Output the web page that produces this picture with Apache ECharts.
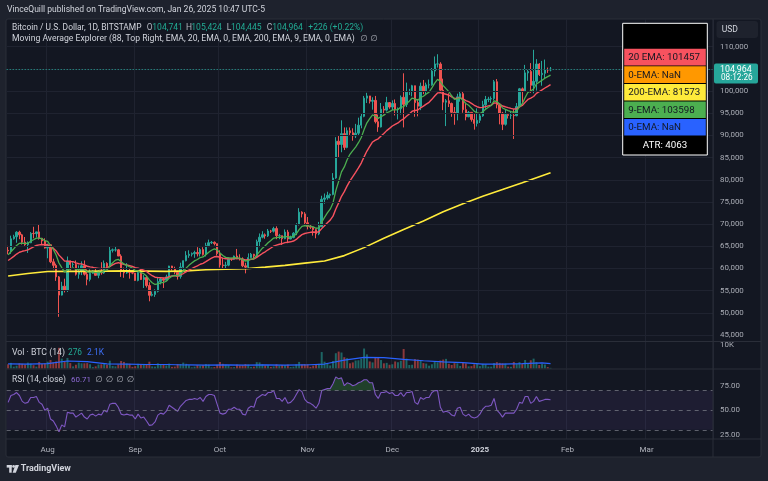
<!DOCTYPE html>
<html><head><meta charset="utf-8">
<script src="https://cdn.jsdelivr.net/npm/echarts/dist/echarts.min.js"></script>
<style>html,body{margin:0;padding:0;background:#1e222d;}#c{width:768px;height:481px;}</style>
</head><body><div id="c"></div>
<script>
// ---------- DATA ----------
const startDate = [2024, 6, 18];   // Jul 18, 2024 (first category)
const dayCount = 250;              // time axis runs to late March 2025
// daily candles [open, close, low, high], Jul 18 2024 .. Jan 26 2025
const ohlc = [
[64100,63950,63200,65100],[63950,66700,63300,67400],[66700,67150,66500,67600],[67150,68180,65800,68400],
[68180,67580,66600,68500],[67580,65930,65400,67800],[65930,65370,65100,67100],[65370,65800,63500,66100],
[65800,67900,65700,68200],[67900,67850,66800,69400],[67850,68250,67000,68300],[68250,66800,66500,70000],
[66800,66200,65300,66900],[66200,64600,64500,66800],
[64600,65350,62300,65600],[65350,61500,61200,65400],[61500,60700,59800,62200],[60700,58100,57200,61100],
[58100,54000,49100,58300],[54000,56000,53900,57000],[56000,55100,54600,57700],[55100,61700,54700,62700],
[61700,60900,59600,61800],[60900,60900,60300,61400],[60900,58700,58400,61800],[58700,59350,57700,60700],
[59350,60600,58500,61600],[60600,58700,58400,61800],[58700,57550,56200,59800],[57550,58900,57100,59800],
[58900,59450,58800,59600],[59450,58450,58400,60200],[58450,59450,57800,59600],[59450,59000,58600,61400],
[59000,61150,58800,61800],[61150,60400,59800,61400],[60400,64100,60400,64900],[64100,64200,63600,64500],
[64200,64200,63800,65000],[64200,62800,62800,64400],[62800,59400,58100,63200],[59400,59000,57900,60200],
[59000,59400,58800,61200],[59400,59100,57700,59900],[59100,58950,58700,59400],
[58950,57300,57200,59000],[57300,59100,57100,59400],[59100,57500,57400,59800],[57500,57950,55600,58500],
[57950,56150,55700,58300],[56150,53950,52600,56900],[53950,54150,53700,54800],[54150,54850,53600,55300],
[54850,57050,54600,58100],[57050,57650,56400,58000],[57650,57350,55600,57900],[57350,58100,57300,58600],
[58100,60550,57600,60600],[60550,60000,59500,60600],[60000,59150,58700,60400],[59150,58200,57500,59200],
[58200,60300,57700,61300],[60300,61750,59200,61800],[61750,62950,61600,63900],[62950,63200,62400,64100],
[63200,63350,62700,63600],[63350,63600,62400,64000],[63600,63300,62700,64800],[63300,64250,62700,64600],
[64250,63150,62900,64800],[63150,65150,62700,65800],[65150,65800,64800,66500],[65800,65900,65500,66200],
[65900,65600,65200,66100],[65600,63350,62900,65600],
[63350,60800,60200,64100],[60800,60650,59900,62400],[60650,60750,59800,61500],[60750,62100,60500,62500],
[62100,62050,61700,62400],[62050,62800,61900,62900],[62800,62200,62100,64400],[62200,62150,61800,63200],
[62150,60600,60300,62500],[60600,60300,58900,61300],[60300,62450,60000,63400],[62450,63200,62400,63500],
[63200,62850,62100,63300],[62850,66050,62400,66500],[66050,67050,64800,67900],[67050,67600,66800,68400],
[67600,67350,66700,67900],[67350,68450,67100,68900],[68450,68400,68000,68700],[68400,69000,68100,69400],
[69000,67400,66600,69500],[67400,67400,66600,67800],[67400,66700,65300,67400],[66700,68200,66600,68800],
[68200,66650,65700,68700],[66650,67000,66600,67400],[67000,67950,66800,68200],[67950,69900,67500,70200],
[69900,72700,69700,73600],[72700,72300,71500,72900],[72300,70300,69700,72700],
[70300,69500,68800,71600],[69500,69300,68900,69900],[69300,68750,67400,69400],[68750,67800,66800,69000],
[67800,69400,67500,70500],[69400,75600,69400,76400],[75600,75900,74600,76900],[75900,76500,75500,77300],
[76500,76700,75800,76900],[76700,80400,76500,81500],[80400,88700,80200,89600],[88700,87950,85100,89950],
[87950,90400,86200,93400],[90400,87300,86700,91800],[87300,91050,87100,91800],[91050,90600,90100,91800],
[90600,89900,88800,91600],[89900,90500,89400,92600],[90500,92300,90000,94000],[92300,94300,91600,94900],
[94300,98400,94100,98900],[98400,98900,97300,99600],[98900,97700,97200,98900],[97700,97900,95800,98600],
[97900,93100,92700,98900],[93100,91900,90800,94700],[91900,95900,91800,97300],[95900,95700,94700,96600],
[95700,97400,95400,98700],[97400,96400,96000,97500],
[96400,97200,95700,97900],[97200,95900,94500,98100],[95900,96000,93600,96300],[96000,98600,94700,99000],
[98600,97000,91800,104000],[97000,99900,96400,101900],[99900,99900,99100,100500],[99900,101200,98800,101400],
[101200,97400,94200,101200],[97400,96600,94300,98200],[96600,101100,95700,101900],[101100,100000,99300,102500],
[100000,101400,99200,101900],[101400,101400,100600,102600],[101400,104500,101200,105200],[104500,106100,103300,107800],
[106100,106100,105300,108300],[106100,100200,100000,106500],[100200,97500,95700,102800],[97500,97800,92100,98200],
[97800,97200,96400,99500],[97200,95200,94200,97400],[95200,94900,92400,96400],[94900,98700,93400,99400],
[98700,99400,97600,99900],[99400,95800,95100,99900],[95800,94200,93400,97300],[94200,95200,94100,95500],
[95200,93600,93100,95200],[93600,92700,91300,94900],[92700,93400,92000,96100],
[93400,94400,92800,94900],[94400,96900,94200,97800],[96900,98100,96000,98900],[98100,98200,97500,98700],
[98200,98300,97300,98800],[98300,102100,97900,102500],[102100,96900,96100,102700],[96900,95000,92500,97200],
[95000,92500,91200,95300],[92500,94700,92200,95800],[94700,94500,93800,95000],[94500,94500,93700,95300],
[94500,94450,89200,95900],[94450,96500,94300,97300],[96500,100500,96500,100700],[100500,99900,97300,100800],
[99900,104100,99900,105900],[104100,104400,102300,104900],[104400,101300,99600,106300],[101300,102200,99500,109300],
[102200,106100,100100,107200],[106100,103700,103400,106300],[103700,104000,101200,106800],[104000,104800,102800,107100],
[104800,104738,104100,105300],[104741,104964,104445,105424]
];
// daily volume, BTC
const volume = [
1800,2400,800,1200,2200,2000,1700,2500,2100,1400,800,2800,1900,2200,
2900,3600,2600,3000,8800,4200,3100,4500,2300,900,1600,2500,2200,2200,2300,1800,600,900,1700,1800,2000,1600,3300,1100,900,1700,3200,2800,2100,2000,700,
1000,2000,1700,1900,1800,2900,900,800,2200,1600,1900,1300,2100,700,800,1900,1900,2500,2000,1400,500,800,1400,1200,1400,1900,1700,500,600,1600,
2800,2000,1600,1400,500,600,1700,1300,1400,1900,1700,700,800,2700,2600,1800,1300,1400,700,900,1800,1200,1500,1400,1700,600,800,1800,2800,1700,1900,
1800,700,1200,1600,2000,7000,2900,2000,1300,3200,6500,7200,6800,4800,4400,2200,2600,3400,3500,4200,8500,6000,3000,2600,4800,4600,3600,2200,2400,1600,
1800,3000,2700,3300,8300,4200,1500,1600,4000,3800,3200,2300,2100,1200,1800,2800,2600,3400,3800,4100,2000,1500,2300,2200,1100,2400,2200,900,1000,1800,2000,
1000,2000,1800,800,800,2300,2700,2400,2200,2100,800,700,2800,1900,2700,1900,3600,1900,3500,4200,2700,1500,1900,1700,600,276
];
// 14-period volume average, read weekly
const volMA = [
['2024-07-18',2000],['2024-07-25',1900],['2024-08-01',2100],['2024-08-08',3200],['2024-08-15',2900],
['2024-08-22',2000],['2024-08-29',1900],['2024-09-05',1700],['2024-09-12',1700],['2024-09-19',1500],
['2024-09-26',1400],['2024-10-03',1500],['2024-10-10',1400],['2024-10-17',1500],['2024-10-24',1400],
['2024-10-31',1500],['2024-11-07',1900],['2024-11-14',3600],['2024-11-21',4700],['2024-11-28',4600],
['2024-12-05',3900],['2024-12-12',3300],['2024-12-19',2800],['2024-12-26',2500],['2025-01-02',1900],
['2025-01-09',1900],['2025-01-16',2100],['2025-01-23',2400],['2025-01-26',2100]
];
const ema20 = [
61800,62260,62730,63250,63660,63870,64020,64190,64540,64850,
65180,65330,65410,65340,65340,64980,64570,63960,63010,62350,
61650,61650,61580,61520,61250,61070,61030,60810,60500,60350,
60260,60090,60030,59930,60050,60080,60460,60820,61140,61300,
61120,60920,60780,60620,60460,60160,60060,59820,59640,59310,
58800,58360,58030,57940,57910,57860,57880,58130,58310,58390,
58370,58550,58860,59250,59620,59980,60320,60600,60950,61160,
61540,61940,62320,62630,62700,62520,62340,62190,62180,62170,
62230,62230,62220,62070,61900,61950,62070,62140,62510,62940,
63380,63760,64210,64610,65030,65260,65460,65580,65830,65910,
66010,66190,66540,67130,67620,67880,68030,68150,68210,68170,
68290,68980,69640,70290,70900,71800,73410,74790,76270,77320,
78620,79760,80720,81650,82660,83770,85160,86470,87530,88520,
88950,89230,89870,90420,91080,91590,92120,92480,92810,93360,
93710,94300,94830,95440,95630,95720,96230,96590,97050,97460,
98130,98890,99580,99640,99440,99280,99080,98710,98350,98380,
98480,98230,97850,97600,97220,96790,96470,96270,96330,96500,
96660,96820,97320,97280,97060,96630,96450,96260,96090,95940,
95990,96420,96750,97450,98110,98410,98770,99470,99870,100260,
100690,101070,101457
];
const ema9 = [
63050,63780,64450,65200,65670,65730,65650,65680,66130,66470,
66830,66820,66700,66280,66090,65170,64280,63040,61230,60190,
59170,59680,59920,60120,59830,59740,59910,59670,59250,59180,
59230,59070,59150,59120,59530,59700,60580,61300,61880,62060,
61530,61020,60700,60380,60090,59530,59440,59050,58830,58290,
57420,56770,56390,56520,56750,56870,57120,57810,58250,58430,
58380,58760,59360,60080,60700,61230,61710,62030,62470,62610,
63120,63650,64100,64400,64190,63510,62940,62500,62420,62350,
62440,62390,62340,61990,61650,61810,62090,62240,63000,63810,
64570,65130,65790,66310,66850,66960,67050,66980,67220,67110,
67090,67260,67790,68770,69480,69640,69610,69550,69390,69070,
69140,70430,71520,72520,73360,74770,77560,79640,81790,82890,
84520,85740,86570,87360,88350,89540,91310,92830,93800,94620,
94320,93840,94250,94540,95110,95370,95740,95770,95820,96380,
96500,97180,97720,98420,98220,97900,98540,98830,99340,99750,
100700,101780,102640,102150,101220,100540,99870,98940,98130,98240,
98470,97940,97190,96790,96150,95460,95050,94920,95320,95880,
96340,96730,97800,97620,97100,96180,95880,95600,95380,95200,
95460,96470,97160,98550,99720,100040,100470,101600,102020,102420,
102900,103260,103598
];
// 200 EMA, read weekly
const ema200 = [
['2024-07-18',58300],['2024-07-25',58850],['2024-08-01',59300],['2024-08-08',59350],['2024-08-15',59350],
['2024-08-22',59400],['2024-08-29',59450],['2024-09-05',59400],['2024-09-12',59350],['2024-09-19',59450],
['2024-09-26',59700],['2024-10-03',59850],['2024-10-10',59950],['2024-10-17',60300],['2024-10-24',60700],
['2024-10-31',61200],['2024-11-07',61700],['2024-11-14',62900],['2024-11-21',64700],['2024-11-28',66800],
['2024-12-05',68800],['2024-12-12',70700],['2024-12-19',72800],['2024-12-26',74600],['2025-01-02',76300],
['2025-01-09',77800],['2025-01-16',79300],['2025-01-23',80900],['2025-01-26',81573]
];
const rsi = [
58,65,66,68,65,59,57,58,63,63,
64,58,56,50,52,41,39,34,28,35,
33,48,47,47,43,45,47,43,41,45,
46,44,46,45,50,48,56,57,57,53,
46,45,46,45,45,41,46,42,43,39,
34.5,35,38,45,47,46,49,55,53,51,
49,54,57,60,61,61,62,61,63,59,
64,66,66,65,56,47,46,47,51,51,
53,51,51,46,45,52,54,53,62,64,
66,65,68,68,70,62,62,59,63,57,
58,61,66,71,69,61,58,57,55,52,
57,70,71,72,72,77,84,82,83,75,
78,77,75,76,78,79,81,81,78,78,
66,62,68,68,69,67,68,65,65,68,
64,68,68,69,58,56,63,61,63,63,
68,70,70,53,48,49,48,45,44,52,
53,46,44,46,43,42,43,46,51,54,
54,55,62,50,47,43,47,47,47,47,
51,58,57,64,64,57,59,64,59,60,
61,61,60.71
];
const priceTicks = [45000,50000,55000,60000,65000,70000,75000,80000,85000,90000,95000,100000,105000,110000];
const hiddenPriceTicks = [105000]; // covered by the last-price tag
const volTicks = [10000];
const rsiTicks = [25, 50, 75];
const rsiLevels = [70, 50, 30];
const monthNames = ['Jan','Feb','Mar','Apr','May','Jun','Jul','Aug','Sep','Oct','Nov','Dec'];
const tableRows = [
  {label:'20 EMA: ', src:'ema20', bg:'#f7525f', fg:'#131722'},
  {label:'0-EMA: NaN', bg:'#ff9800', fg:'#131722'},
  {label:'200-EMA: ', src:'ema200', bg:'#ffeb3b', fg:'#131722'},
  {label:'9-EMA: ', src:'ema9', bg:'#4caf50', fg:'#131722'},
  {label:'0-EMA: NaN', bg:'#2962ff', fg:'#131722'},
  {label:'ATR: 4063', bg:'#000000', fg:'#ffffff', center:true}
];

// ---------- BUILD ----------
const categories = [];
for (let i = 0; i < dayCount; i++) {
  const d = new Date(Date.UTC(startDate[0], startDate[1], startDate[2] + i));
  categories.push(d.toISOString().slice(0, 10));
}
const UP = '#26a69a', DOWN = '#ef5350';
const FONT = 'Roboto, "Liberation Sans", "DejaVu Sans", sans-serif';
const fmt = v => Math.round(v).toLocaleString('en-US');
const last = ohlc[ohlc.length - 1];
const prevClose = ohlc[ohlc.length - 2][1];
const chg = last[1] - prevClose;
const chgPct = (chg / prevClose * 100).toFixed(2);
const isMonthStart = (i, v) => typeof v === 'string' && v.slice(8) === '01';

// font size that makes a text span a given pixel width
const mctx = document.createElement('canvas').getContext('2d');
function fitSize(text, target, weight) {
  mctx.font = (weight ? weight + ' ' : '') + '20px ' + FONT;
  return 20 * target / mctx.measureText(text).width;
}
const AXIS_FS = fitSize('110,000', 28.3);
const XLAB_FS = (fitSize('Aug', 13.3) + fitSize('Sep', 13.3) + fitSize('Oct', 13.3)) / 3;

const volData = volume.map((v, i) => ({value: v, itemStyle: {color: ohlc[i][1] >= ohlc[i][0] ? 'rgba(38,166,154,0.55)' : 'rgba(239,83,80,0.55)'}}));

const GL = 6.7, GW = 706.3;
const grid = [
  {left: GL, top: 19, width: GW, height: 322.5},
  {left: GL, top: 341.5, width: GW, height: 27},
  {left: GL, top: 369, width: GW, height: 70}
];
function xAx(idx, showLabel) {
  return {
    type: 'category', gridIndex: idx, data: categories, boundaryGap: true,
    axisLine: {show: false}, axisTick: {show: false},
    splitLine: {show: true, interval: isMonthStart, lineStyle: {color: '#1f2330', width: 1}},
    axisLabel: {
      show: showLabel, interval: isMonthStart, margin: 6.5, color: '#b2b5be', fontSize: XLAB_FS, fontFamily: FONT,
      formatter: v => { const m = +v.slice(5, 7); return m === 1 ? '{y|' + v.slice(0, 4) + '}' : monthNames[m - 1]; },
      rich: {y: {fontWeight: 'bold', color: '#d1d4dc', fontSize: XLAB_FS, fontFamily: FONT}}
    }
  };
}
function yAx(idx, min, max, ticks, formatter) {
  return {
    type: 'value', gridIndex: idx, position: 'right', min: min, max: max, scale: true,
    axisLine: {show: false}, axisTick: {show: false}, splitLine: {show: false},
    axisLabel: {show: true, customValues: ticks, formatter: formatter, color: '#a9acb5', fontSize: AXIS_FS, margin: 7, fontFamily: FONT}
  };
}

const option = {
  animation: false,
  backgroundColor: '#1e222d',
  textStyle: {fontFamily: FONT},
  grid: grid,
  xAxis: [xAx(0, false), xAx(1, false), xAx(2, true)],
  yAxis: [
    yAx(0, 43534, 116245, priceTicks.filter(v => hiddenPriceTicks.indexOf(v) < 0), v => fmt(v)),
    yAx(1, 0, 11489, volTicks, v => (v / 1000) + 'K'),
    yAx(2, 20.61, 92.04, rsiTicks, v => v.toFixed(2))
  ],
  series: [
    { // horizontal price grid lines
      type: 'line', xAxisIndex: 0, yAxisIndex: 0, data: [], z: 1, silent: true,
      markLine: {silent: true, symbol: 'none', label: {show: false}, animation: false,
        lineStyle: {color: '#1f2330', width: 1, type: 'solid'},
        data: priceTicks.map(v => ({yAxis: v}))}
    },
    {
      type: 'candlestick', name: 'BTCUSD', xAxisIndex: 0, yAxisIndex: 0, data: ohlc, barWidth: '68%', z: 2,
      itemStyle: {color: UP, color0: DOWN, borderColor: UP, borderColor0: DOWN, borderWidth: 1},
      markLine: {silent: true, symbol: 'none', label: {show: false}, animation: false,
        lineStyle: {color: UP, width: 1, type: [1, 2]}, data: [{yAxis: last[1]}]}
    },
    {type: 'line', name: 'EMA200', xAxisIndex: 0, yAxisIndex: 0, data: ema200, showSymbol: false, symbol: 'none', z: 3,
      lineStyle: {color: '#ffeb3b', width: 1.6}},
    {type: 'line', name: 'EMA20', xAxisIndex: 0, yAxisIndex: 0, data: ema20, showSymbol: false, symbol: 'none', z: 3,
      lineStyle: {color: '#f7525f', width: 1.4}},
    {type: 'line', name: 'EMA9', xAxisIndex: 0, yAxisIndex: 0, data: ema9, showSymbol: false, symbol: 'none', z: 3,
      lineStyle: {color: '#4caf50', width: 1.3}},
    {type: 'bar', name: 'Volume', xAxisIndex: 1, yAxisIndex: 1, data: volData, barWidth: '70%', z: 2},
    {type: 'line', name: 'VolMA', xAxisIndex: 1, yAxisIndex: 1, data: volMA, showSymbol: false, symbol: 'none', z: 3,
      lineStyle: {color: '#2962ff', width: 1.2}},
    {type: 'line', name: 'RSIOB', xAxisIndex: 2, yAxisIndex: 2, data: rsi.map(v => Math.max(v, 70)), showSymbol: false, symbol: 'none', z: 2,
      lineStyle: {opacity: 0}, areaStyle: {origin: 70, color: 'rgba(56,142,60,0.5)'}},
    {type: 'line', name: 'RSIOS', xAxisIndex: 2, yAxisIndex: 2, data: rsi.map(v => Math.min(v, 30)), showSymbol: false, symbol: 'none', z: 2,
      lineStyle: {opacity: 0}, areaStyle: {origin: 30, color: 'rgba(242,54,69,0.4)'}},
    {type: 'line', name: 'RSI', xAxisIndex: 2, yAxisIndex: 2, data: rsi, showSymbol: false, symbol: 'none', z: 3,
      lineStyle: {color: '#7e57c2', width: 1.1},
      markArea: {silent: true, itemStyle: {color: 'rgba(126,87,194,0.10)'}, data: [[{yAxis: rsiLevels[2]}, {yAxis: rsiLevels[0]}]]},
      markLine: {silent: true, symbol: 'none', label: {show: false}, animation: false,
        lineStyle: {color: 'rgba(120,123,134,0.75)', width: 1, type: [4, 4]},
        data: rsiLevels.map(v => ({yAxis: v}))}}
  ]
};

const chart = echarts.init(document.getElementById('c'), null, {width: 768, height: 481});
chart.setOption(option);

// ---------- overlays (frame, legends, last-price tag, table) ----------
const g = [];
function put(x, y, text, fs, color, opts) {
  opts = opts || {};
  const align = opts.align || 'left';
  g.push({type: 'text', z: 30, style: {text: text, x: x, y: y, fill: color,
    font: (opts.weight ? opts.weight + ' ' : '') + fs.toFixed(2) + 'px ' + FONT,
    align: align, textAlign: align, verticalAlign: 'middle', textVerticalAlign: 'middle'}});
}
// text placed from x and sized so that it spans the width seen in the reference
function txtW(x, y, text, width, color, opts) {
  put(x, y, text, fitSize(text, width, opts && opts.weight), color, opts);
}
g.push({type: 'rect', z: -10, shape: {x: 6, y: 19, width: 755, height: 438, r: 2}, style: {fill: '#131722', stroke: '#2a2e39', lineWidth: 1}});
[[6, 341.5, 761, 341.5], [6, 369, 761, 369], [6, 439, 761, 439], [713, 19, 713, 457]].forEach(l =>
  g.push({type: 'line', z: 20, shape: {x1: l[0], y1: l[1], x2: l[2], y2: l[3]}, style: {stroke: '#2a2e39', lineWidth: 1}}));

// header + legends
const GRAY = '#b2b5be', LIGHT = '#d1d4dc', TEAL = '#22ab94';
const LFS = fitSize('Bitcoin / U.S. Dollar, 1D, BITSTAMP', 129.7);
txtW(7, 10, 'VinceQuill published on TradingView.com, Jan 26, 2025 10:47 UTC-5', 258, LIGHT);
put(12, 28.3, 'Bitcoin / U.S. Dollar, 1D, BITSTAMP', LFS, LIGHT);
[[146.7, 'O', 152.3, last[0]], [186.0, 'H', 191.3, last[3]], [226.7, 'L', 231.0, last[2]], [266.7, 'C', 272.3, last[1]]]
  .forEach(s => { put(s[0], 28.3, s[1], LFS, GRAY); txtW(s[2], 28.3, fmt(s[3]), 30.6, TEAL); });
txtW(308.3, 28.3, (chg >= 0 ? '+' : '') + fmt(chg) + ' (' + (chg >= 0 ? '+' : '') + chgPct + '%)', 55, TEAL);
txtW(12, 39.3, 'Moving Average Explorer (88, Top Right, EMA, 20, EMA, 0, EMA, 200, EMA, 9, EMA, 0, EMA)', 343, LIGHT);
put(360.5, 39.3, '∅', LFS, GRAY); put(370.5, 39.3, '∅', LFS, GRAY);
txtW(12, 353, 'Vol · BTC (14)', 53, LIGHT);
txtW(68, 353, String(volume[volume.length - 1]), 14, TEAL);
txtW(87, 353, (volMA[volMA.length - 1][1] / 1000).toFixed(1) + 'K', 17, '#3d6ff7');
txtW(12, 380, 'RSI (14, close)', 54, LIGHT);
txtW(71, 380, rsi[rsi.length - 1].toFixed(2), 20, '#8f6bd6');
[95.5, 106, 116.5, 127].forEach(x => put(x, 380, '∅', LFS, GRAY));
txtW(20.7, 469, 'TradingView', 50.3, LIGHT, {weight: 'bold'});

// USD button
g.push({type: 'rect', z: 20, shape: {x: 716.5, y: 21, width: 41.5, height: 17, r: 3}, style: {fill: '#1e222d'}});
txtW(721.7, 29.5, 'USD', 16.3, LIGHT);
// last-price tag
const yp = chart.convertToPixel({yAxisIndex: 0}, last[1]);
g.push({type: 'rect', z: 20, shape: {x: 714, y: yp - 5.5, width: 44, height: 20, r: 2}, style: {fill: UP}});
txtW(720, yp + 0.3, fmt(last[1]), 31.7, '#ffffff');
txtW(721, yp + 9.3, '08:12:26', 31.7, '#ffffff');
// indicator table
const TX = 622.7, TY = 23.3, TW = 84.6, TH = 131.7;
g.push({type: 'rect', z: 20, shape: {x: TX, y: TY, width: TW, height: TH}, style: {fill: '#000000', stroke: '#ffffff', lineWidth: 1}});
const srcVals = {ema20: ema20[ema20.length - 1], ema9: ema9[ema9.length - 1], ema200: ema200[ema200.length - 1][1]};
const TFS = fitSize('20 EMA: 101457', 71.7);
tableRows.forEach((r, i) => {
  const y0 = 48.8 + i * 17.55, h = 16.6;
  g.push({type: 'rect', z: 21, shape: {x: TX + 1.5, y: y0, width: TW - 3, height: h}, style: {fill: r.bg}});
  const t = r.src ? r.label + Math.round(srcVals[r.src]) : r.label;
  put(r.center ? TX + TW / 2 : TX + 5.6, y0 + h / 2 + 0.5, t, TFS, r.fg, {align: r.center ? 'center' : 'left'});
});
// TradingView logo mark
g.push({type: 'rect', z: 20, shape: {x: 6.7, y: 465, width: 5, height: 2.6}, style: {fill: LIGHT}});
g.push({type: 'rect', z: 20, shape: {x: 9.2, y: 465, width: 2.5, height: 7.7}, style: {fill: LIGHT}});
g.push({type: 'circle', z: 20, shape: {cx: 13.6, cy: 466.4, r: 1.4}, style: {fill: LIGHT}});
g.push({type: 'polygon', z: 20, shape: {points: [[15.4, 465], [19.0, 465], [15.8, 472.7], [12.6, 472.7]]}, style: {fill: LIGHT}});
chart.setOption({graphic: g});
</script>
</body></html>
